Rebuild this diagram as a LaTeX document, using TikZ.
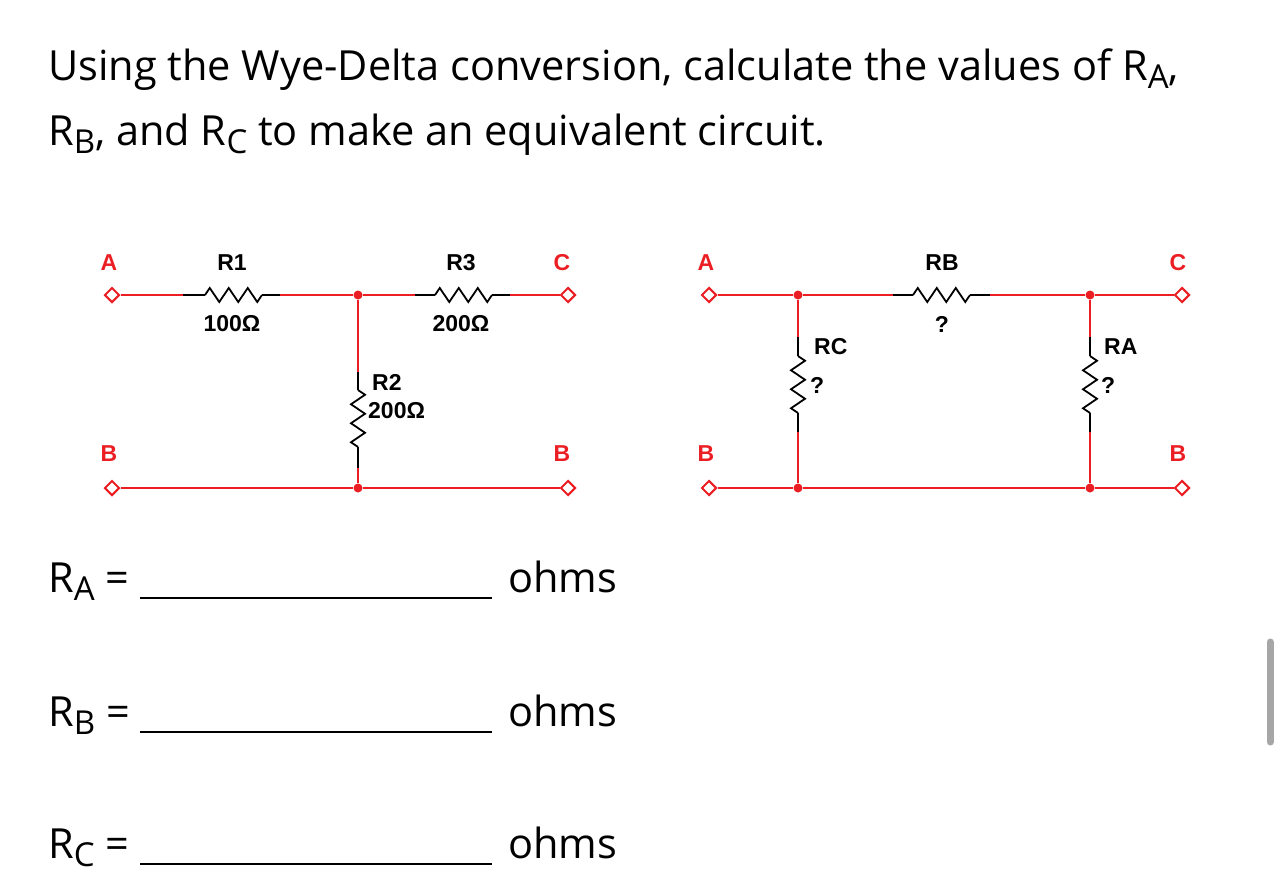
\documentclass[tikz,border=0pt]{standalone}
\usepackage{fontspec}
\setmainfont{Open Sans}
\newfontfamily\cirf{Liberation Sans}
\usetikzlibrary{shapes.geometric,decorations.pathmorphing}
\definecolor{wr}{RGB}{235,30,35}
\tikzset{
 wire/.style={wr,line width=2.2pt},
 lead/.style={black,line width=2pt},
 zz/.style={black,line width=1.8pt,decorate,decoration={zigzag,segment length=19pt,amplitude=7pt}},
 term/.style={diamond,draw=wr,fill=white,line width=2pt,inner sep=0pt,minimum size=15pt},
 dot/.style={circle,fill=wr,inner sep=0pt,minimum size=9pt},
 lbl/.style={font=\cirf\bfseries\fontsize{23}{26}\selectfont,inner sep=0pt},
 rl/.style={lbl,wr},
 txt/.style={font=\fontsize{41.5}{48}\selectfont,inner sep=0pt,anchor=base west},
}
\newcommand{\sbx}[1]{\raisebox{-0.2em}{\fontsize{33}{33}\selectfont #1}}
\begin{document}
\begin{tikzpicture}[x=1pt,y=-1pt]
\useasboundingbox[fill=white] (0,0) rectangle (1284,889);
\node[txt] (t1) at (48,80) {Using the Wye-Delta conversion, calculate the values of R\sbx{A},};
\node[txt] (t2) at (48,145) {R\sbx{B}, and R\sbx{C} to make an equivalent circuit.};
% left circuit
\node[term] (lA) at (112,295) {};
\node[term] (lC) at (568,295) {};
\node[term] (lB1) at (112,488) {};
\node[term] (lB2) at (568,488) {};
\node[dot] (lj1) at (358,295) {};
\node[dot] (lj2) at (358,488) {};
\coordinate (r1a) at (183,295); \coordinate (r1b) at (205,295);
\coordinate (r1c) at (262,295); \coordinate (r1d) at (280,295);
\coordinate (r3a) at (415,295); \coordinate (r3b) at (435,295);
\coordinate (r3c) at (492,295); \coordinate (r3d) at (510,295);
\coordinate (r2a) at (358,372); \coordinate (r2b) at (358,390);
\coordinate (r2c) at (358,447); \coordinate (r2d) at (358,468);
\draw[wire] (lA) -- (r1a) (r1d) -- (lj1) -- (r3a) (r3d) -- (lC);
\draw[wire] (lB1) -- (lj2) -- (lB2);
\draw[wire] (lj1) -- (r2a) (r2d) -- (lj2);
\draw[lead] (r1a) -- (r1b) (r1c) -- (r1d) (r3a) -- (r3b) (r3c) -- (r3d) (r2a) -- (r2b) (r2c) -- (r2d);
\draw[zz] (r1b) -- (r1c);
\draw[zz] (r3b) -- (r3c);
\draw[zz] (r2b) -- (r2c);
\node[rl] (lAl) at (109,263) {A};
\node[rl] (lCl) at (562,263) {C};
\node[rl] (lB1l) at (109,454) {B};
\node[rl] (lB2l) at (562,454) {B};
\node[lbl] (R1l) at (232,263) {R1};
\node[lbl] (R1v) at (232,324) {100Ω};
\node[lbl] (R3l) at (461,263) {R3};
\node[lbl] (R3v) at (461,324) {200Ω};
\node[lbl,anchor=west] (R2l) at (372,382) {R2};
\node[lbl,anchor=west] (R2v) at (368,411) {200Ω};
% right circuit
\node[term] (rA) at (709,295) {};
\node[term] (rC) at (1182,295) {};
\node[term] (rB1) at (709,488) {};
\node[term] (rB2) at (1182,488) {};
\node[dot] (rj1) at (798,295) {};
\node[dot] (rj2) at (1090,295) {};
\node[dot] (rj3) at (798,488) {};
\node[dot] (rj4) at (1090,488) {};
\coordinate (rba) at (893,295); \coordinate (rbb) at (913,295);
\coordinate (rbc) at (970,295); \coordinate (rbd) at (990,295);
\coordinate (rca) at (798,337); \coordinate (rcb) at (798,356);
\coordinate (rcc) at (798,413); \coordinate (rcd) at (798,432);
\coordinate (raa) at (1090,337); \coordinate (rab) at (1090,356);
\coordinate (rac) at (1090,413); \coordinate (rad) at (1090,432);
\draw[wire] (rA) -- (rj1) -- (rba) (rbd) -- (rj2) -- (rC);
\draw[wire] (rB1) -- (rj3) -- (rj4) -- (rB2);
\draw[wire] (rj1) -- (rca) (rcd) -- (rj3) (rj2) -- (raa) (rad) -- (rj4);
\draw[lead] (rba) -- (rbb) (rbc) -- (rbd) (rca) -- (rcb) (rcc) -- (rcd) (raa) -- (rab) (rac) -- (rad);
\draw[zz] (rbb) -- (rbc);
\draw[zz] (rcb) -- (rcc);
\draw[zz] (rab) -- (rac);
\node[rl] (rAl) at (706,263) {A};
\node[rl] (rCl) at (1178,263) {C};
\node[rl] (rB1l) at (706,454) {B};
\node[rl] (rB2l) at (1178,454) {B};
\node[lbl] (RBl) at (942,263) {RB};
\node[lbl] (RBv) at (942,324) {?};
\node[lbl,anchor=west] (RCl) at (814,347) {RC};
\node[lbl,anchor=west] (RCv) at (810,385) {?};
\node[lbl,anchor=west] (RAl) at (1104,347) {RA};
\node[lbl,anchor=west] (RAv) at (1101,385) {?};
% answers
\node[txt] (ea) at (48,592) {R\sbx{A} =};
\node[txt] (eb) at (48,726) {R\sbx{B} =};
\node[txt] (ec) at (48,858) {R\sbx{C} =};
\coordinate (la1) at (140,598); \coordinate (la2) at (492,598);
\coordinate (lb1) at (140,732); \coordinate (lb2) at (492,732);
\coordinate (lc1) at (140,864); \coordinate (lc2) at (492,864);
\draw[line width=1.5pt] (la1) -- (la2) (lb1) -- (lb2) (lc1) -- (lc2);
\node[txt] (oa) at (508,592) {ohms};
\node[txt] (ob) at (508,726) {ohms};
\node[txt] (oc) at (508,858) {ohms};
\coordinate (s1) at (1270,642); \coordinate (s2) at (1270,742);
\draw[gray!70,line width=7pt,line cap=round] (s1) -- (s2);
\end{tikzpicture}
\end{document}
